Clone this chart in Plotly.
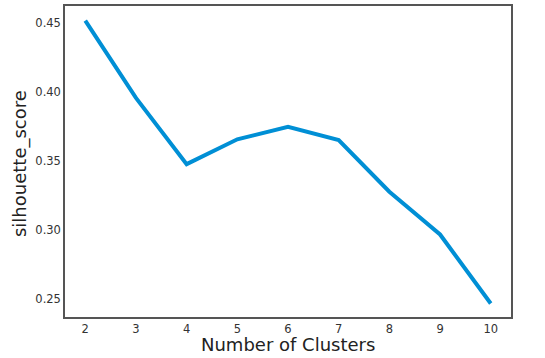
import plotly.graph_objects as go

clusters = [2, 3, 4, 5, 6, 7, 8, 9, 10]
scores = [0.452, 0.396, 0.348, 0.366, 0.375, 0.3655, 0.328, 0.297, 0.247]
yticks = [0.25, 0.30, 0.35, 0.40, 0.45]
ytick_text = ["0.25", "0.30", "0.35", "0.40", "0.45"]
x_title = "Number of Clusters"
y_title = "silhouette_score"

fig = go.Figure()
fig.add_trace(go.Scatter(x=clusters, y=scores, mode="lines",
                         line=dict(color="#008fd5", width=4)))

axis_common = dict(showgrid=False, zeroline=False, showline=True, mirror=True,
                   linecolor="#555555", linewidth=1.5, ticks="", automargin=False,
                   tickfont=dict(family="DejaVu Sans", size=11.5, color="#333333"))

fig.update_layout(
    width=545, height=358,
    margin=dict(l=65, r=34, t=6, b=41, autoexpand=False),
    paper_bgcolor="white", plot_bgcolor="white",
    showlegend=False,
    xaxis=dict(range=[1.6, 10.4], tickmode="array", tickvals=clusters, **axis_common),
    yaxis=dict(range=[0.2372, 0.4626], tickmode="array", tickvals=yticks, ticktext=ytick_text,
               **axis_common),
    annotations=[
        dict(text=x_title, xref="paper", yref="paper", x=0.5, y=-0.09,
             xanchor="center", yanchor="middle", showarrow=False,
             font=dict(family="DejaVu Sans", size=18, color="#222222")),
        dict(text=y_title, xref="paper", yref="paper", x=-0.101, y=0.495,
             xanchor="center", yanchor="middle", showarrow=False, textangle=-90,
             font=dict(family="DejaVu Sans", size=18, color="#222222")),
    ],
)

fig.write_html("out.html", config={"displayModeBar": False},
               post_script="document.body.style.margin='0';document.body.style.overflow='hidden';")
